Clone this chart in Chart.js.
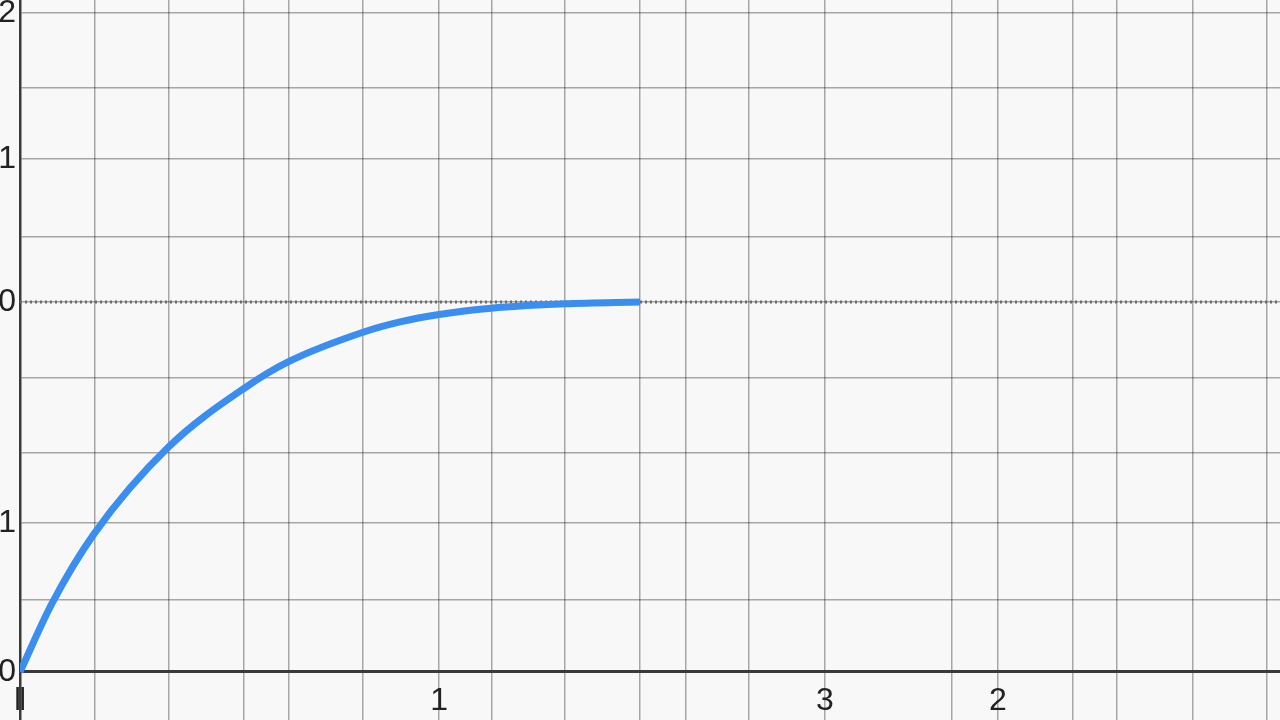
<!DOCTYPE html>
<html>
<head>
<meta charset="utf-8">
<script src="https://cdn.jsdelivr.net/npm/chart.js@4/dist/chart.umd.min.js"></script>
<style>
  html, body { margin: 0; padding: 0; background: #f8f8f8; }
  #wrap { width: 1280px; height: 720px; position: relative; }
</style>
</head>
<body>
<div id="wrap"><canvas id="c"></canvas></div>
<script>
// Curve values (x, y)
const curveX = [0, 0.0516, 0.1194, 0.2403, 0.3629, 0.4339, 0.5532, 0.6129, 0.6758, 0.7597, 0.879, 1.0];
const curveY = [0, 0.185, 0.373, 0.609, 0.768, 0.839, 0.918, 0.946, 0.966, 0.983, 0.995, 1.0];
// Asymptote (dotted line) level
const asymptoteY = 1.0;
// Axis ranges
const xMin = 0, xMax = 2.032;
const yMin = -0.13, yMax = 1.816;
// Grid line positions
const xGrid = [0, 0.121, 0.240, 0.361, 0.434, 0.553, 0.676, 0.760, 0.879, 1.0, 1.073, 1.176, 1.298, 1.502, 1.577, 1.698, 1.769, 1.892, 2.011];
const yGrid = [0, 0.195, 0.403, 0.592, 0.795, 1.0, 1.176, 1.386, 1.578, 1.781];
// Tick labels (value -> label)
const xTickValues = [0, 0.676, 1.298, 1.577];
const xTickLabels = ["\u2016", "1", "3", "2"];
const yTickValues = [0, 0.403, 1.0, 1.386, 1.781];
const yTickLabels = ["0", "1", "0", "1", "2"];

function labelFor(values, labels, v) {
  for (let i = 0; i < values.length; i++) {
    if (Math.abs(values[i] - v) < 1e-6) return labels[i];
  }
  return "";
}

const curveData = curveX.map((x, i) => ({ x: x, y: curveY[i] }));
const asymData = [{ x: xMin, y: asymptoteY }, { x: xMax, y: asymptoteY }];

const gridColor = "rgba(0,0,0,0.33)";
const tickFont = { family: "'Liberation Sans', 'DejaVu Sans', Arial, sans-serif", size: 32 };

new Chart(document.getElementById("c"), {
  type: "scatter",
  data: {
    datasets: [
      {
        data: curveData,
        showLine: true,
        borderColor: "#3a8ef0",
        borderWidth: 7,
        pointRadius: 0,
        cubicInterpolationMode: "monotone",
        borderCapStyle: "butt",
        fill: false
      },
      {
        data: asymData,
        showLine: true,
        borderColor: "#6a6a6a",
        borderWidth: 3,
        borderDash: [2, 3],
        pointRadius: 0,
        fill: false
      }
    ]
  },
  options: {
    responsive: true,
    maintainAspectRatio: false,
    animation: false,
    layout: { padding: 0 },
    plugins: { legend: { display: false }, tooltip: { enabled: false } },
    scales: {
      x: {
        type: "linear",
        min: xMin,
        max: xMax,
        position: { y: 0 },
        afterBuildTicks: (axis) => { axis.ticks = xGrid.map(v => ({ value: v })); },
        afterFit: (s) => { s.paddingLeft = 0; s.paddingRight = 0; s.paddingTop = 0; s.paddingBottom = 0; },
        grid: { color: gridColor, lineWidth: 1.5, drawTicks: false },
        border: { display: true, color: "#3a3a3a", width: 3 },
        ticks: {
          autoSkip: false,
          maxRotation: 0,
          padding: 10,
          color: "#222",
          font: tickFont,
          callback: (v) => labelFor(xTickValues, xTickLabels, v)
        }
      },
      y: {
        type: "linear",
        min: yMin,
        max: yMax,
        position: "left",
        afterFit: (s) => { s.width = 20; s.paddingTop = 0; s.paddingBottom = 0; s.paddingLeft = 0; s.paddingRight = 0; },
        afterBuildTicks: (axis) => { axis.ticks = yGrid.map(v => ({ value: v })); },
        grid: { color: gridColor, lineWidth: 1.5, drawTicks: false },
        border: { display: true, color: "#3a3a3a", width: 2.5 },
        ticks: {
          autoSkip: false,
          padding: 4,
          color: "#222",
          font: tickFont,
          callback: (v) => labelFor(yTickValues, yTickLabels, v)
        }
      }
    }
  }
});
</script>
</body>
</html>
